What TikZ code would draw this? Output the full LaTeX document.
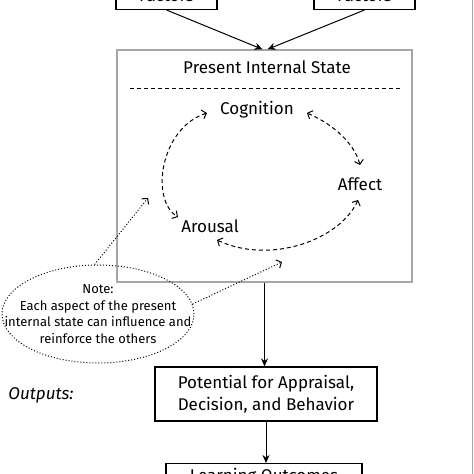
\documentclass[tikz,border=0pt]{standalone}
\usepackage{fontspec}
\setmainfont{Fira Sans}
\usetikzlibrary{arrows.meta,shapes.geometric}
\begin{document}
\begin{tikzpicture}[x=1pt,y=-1pt,font=\fontsize{17}{22}\selectfont,
    caja/.style={draw,line width=1.2pt,inner xsep=0pt},
    flecha/.style={line width=1pt,-{Stealth[length=8pt,width=7pt]}},
    ciclo/.style={line width=1pt,dash pattern=on 4pt off 3pt,{Straight Barb[length=4pt,width=9pt]}-{Straight Barb[length=4pt,width=9pt]}},
    punteada/.style={line width=1pt,dash pattern=on 1pt off 2pt,-{Straight Barb[length=4pt,width=9pt]}}]
    \useasboundingbox (0,0) rectangle (474,474);

    % Factores de entrada
    \node[caja,anchor=south,minimum width=101pt,inner ysep=8pt,text depth=0pt] (fizq) at (166.5,10) {Factors};
    \node[caja,anchor=south,minimum width=101pt,inner ysep=8pt,text depth=0pt] (fder) at (364.5,10) {Factors};

    % Estado interno
    \node[draw=gray!70,line width=1.3pt,minimum width=295pt,minimum height=232pt] (estado) at (264.5,166) {};
    \node (titulo) at (267,67) {Present Internal State};
    \coordinate (L1) at (130,88);
    \coordinate (L2) at (400,88);
    \draw[line width=1pt,dash pattern=on 4pt off 3pt] (L1) -- (L2);

    \draw[flecha] (fizq.south) -- ([xshift=-2pt]estado.north);
    \draw[flecha] (fder.south) -- ([xshift=3pt]estado.north);

    \node (cog) at (257,110) {Cognition};
    \node (afe) at (360,184) {Affect};
    \node (aro) at (210,226) {Arousal};

    \draw[ciclo] (207,113) .. controls (160,128) and (150,200) .. (178,217);
    \draw[ciclo] (307,113) .. controls (335,125) and (355,145) .. (360,165);
    \draw[ciclo] (358,200) .. controls (340,240) and (270,265) .. (217,240);

    % Nota
    \node[ellipse,draw,line width=1pt,dash pattern=on 1pt off 2pt,minimum width=192pt,minimum height=98pt,inner sep=0pt] (nota) at (98,314) {};
    \node[align=center,font=\fontsize{13}{16.5}\selectfont] (notatexto) at (nota.center)
          {Note:\\Each aspect of the present\\internal state can influence and\\reinforce the others};
    \coordinate (n1) at (148,198);
    \coordinate (n2) at (282,262);
    \draw[punteada] (nota.94) -- (n1);
    \draw[punteada] (nota.6) -- (n2);

    % Salidas
    \node[caja,minimum width=222pt,minimum height=54pt,align=center] (pot) at (266,394)
          {Potential for Appraisal,\\Decision, and Behavior};
    \node[font=\fontsize{17}{22}\selectfont\itshape] (out) at (41,395) {Outputs:};
    \node[caja,anchor=north,minimum width=196pt,inner ysep=5pt] (apr) at (264,463) {Learning Outcomes};

    \draw[flecha] (estado.south) -- (estado.south |- pot.north);
    \draw[flecha] (pot.south) -- (pot.south |- apr.north);

    % Borde
    \draw[gray!70,line width=1.5pt] (472.5,0) -- (472.5,474);
\end{tikzpicture}
\end{document}
